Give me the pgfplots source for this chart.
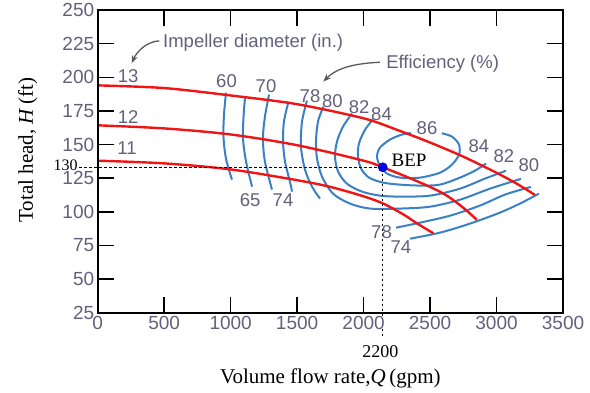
\documentclass[border=0pt]{standalone}
\usepackage{fontspec}
\setmainfont{Liberation Serif}
\setsansfont{Liberation Sans}
\usepackage{pgfplots}
\pgfplotsset{compat=1.18}
\usetikzlibrary{arrows.meta}
\definecolor{cblue}{RGB}{58,128,196}
\definecolor{cred}{RGB}{240,20,20}
\definecolor{lbl}{RGB}{98,96,122}
\newcommand\lf{\fontsize{18.5}{18.5}\selectfont\sffamily}
\begin{document}
\begin{tikzpicture}
\begin{axis}[
  scale only axis, width=465.3pt, height=302.6pt,
  xmin=0, xmax=3500, ymin=25, ymax=250,
  xtick={0,500,...,3500}, ytick={25,50,...,250},
  tick align=inside, major tick length=16pt,
  tick style={draw=black, line width=1.5pt},
  axis line style={draw=black, line width=1.8pt},
  axis on top,
  ticklabel style={font=\fontsize{19}{19}\selectfont\sffamily, text=lbl},
  /pgf/number format/assume math mode=true,
  /pgf/number format/1000 sep={},
  scaled ticks=false,
  clip=false,
]
\path ([shift={(-97.7pt,-80pt)}]rel axis cs:0,0) rectangle ([shift={(27pt,8.4pt)}]rel axis cs:1,1);
% efficiency contours
\addplot[cblue, line width=2pt, smooth] coordinates {(965,188.6) (950,172.3) (946,155.9) (965,139.5) (1010,123.9)};
\addplot[cblue, line width=2pt, smooth] coordinates {(1108,184.9) (1097,170.8) (1093,154.4) (1116,137.3) (1161,118.7)};
\addplot[cblue, line width=2pt, smooth] coordinates {(1289,187.2) (1258,170.8) (1243,154.4) (1258,137.3) (1311,116.5)};
\addplot[cblue, line width=2pt, smooth] coordinates {(1435,181.9) (1401,167.1) (1394,152.2) (1409,137.3) (1446,122.4) (1462,115)};
\addplot[cblue, line width=2pt, smooth] coordinates {(1574,182.7) (1537,167.1) (1529,148.5) (1559,131.4) (1612,118.7) (1672,109.8)};
\addplot[cblue, line width=2pt, smooth] coordinates {(1698,178.2) (1657,167.1) (1642,152.2) (1650,139.5) (1687,126.2) (1770,113.5) (1898,106.1) (2048,102.4) (2274,102.4) (2500,103.8) (2725,109) (2951,117.2) (3184,124.5)};
\addplot[cblue, line width=2pt, smooth] coordinates {(1913,173) (1845,163.3) (1800,152.2) (1785,141) (1808,129.9) (1875,120.9) (1988,115) (2123,112) (2274,111.3) (2500,112) (2725,117.2) (2913,124.7) (3071,130.5)};
\addplot[cblue, line width=2pt, smooth] coordinates {(2071,168.6) (2011,161.1) (1965,150.7) (1958,141) (1981,132.1) (2041,125.4) (2146,121.7) (2274,120.2) (2424,119.5) (2575,120.2) (2725,125.4) (2838,130.6) (2921,135.8)};
\addplot[cblue, line width=2pt, smooth] coordinates {(2588,158.4) (2665,155.9) (2718,149.9) (2718,142.5) (2665,135.1) (2575,129.1) (2424,125.4) (2274,125.4) (2177,128.4) (2123,134.3) (2101,141) (2123,147.7) (2199,153.7) (2289,157.4) (2357,158.5)};
\addplot[cblue, line width=2pt, smooth] coordinates {(2244,88.2) (2424,91.9) (2650,97.1) (2875,104.6) (3064,112.8) (3259,118.5)};
\addplot[cblue, line width=2pt, smooth] coordinates {(2349,80) (2575,84.5) (2800,91.2) (3026,99.4) (3176,106.1) (3319,113.5)};
% impeller curves
\addplot[cred, line width=2.4pt, smooth] coordinates {(0,194) (500,192) (1000,186.5) (1500,180) (2000,169.5) (2250,161) (2500,151.5) (2750,141) (3000,129) (3150,121) (3290,112.5)};
\addplot[cred, line width=2.4pt, smooth] coordinates {(0,164.3) (500,162) (1000,157.5) (1500,149.5) (2000,138) (2145,133) (2300,127) (2500,118.5) (2626,112) (2750,103) (2852,94)};
\addplot[cred, line width=2.4pt, smooth] coordinates {(0,138) (500,136) (1000,131.5) (1500,123.5) (1750,118.5) (2000,111.5) (2150,106) (2300,98) (2400,91.5) (2525,84)};
% BEP guide lines
\addplot[black, line width=1.3pt, dash pattern=on 2.5pt off 2.5pt] coordinates {(-140,133.1) (2144,133.1) (2144,5.7)};
\addplot[only marks, mark=*, mark size=4.5pt, mark options={fill=blue, draw=black!60!blue, line width=0.6pt}] coordinates {(2144,133.1)};
% labels
\node[font=\lf, text=lbl] at (axis cs:969,197.2) {60};
\node[font=\lf, text=lbl] at (axis cs:1266,193.1) {70};
\node[font=\lf, text=lbl] at (axis cs:1597,186) {78};
\node[font=\lf, text=lbl] at (axis cs:1766,182.3) {80};
\node[font=\lf, text=lbl] at (axis cs:1966,177.9) {82};
\node[font=\lf, text=lbl] at (axis cs:2135,172.6) {84};
\node[font=\lf, text=lbl] at (axis cs:2477,161.9) {86};
\node[font=\lf, text=lbl] at (axis cs:2868,148.5) {84};
\node[font=\lf, text=lbl] at (axis cs:3056,141.4) {82};
\node[font=\lf, text=lbl] at (axis cs:3244,134.7) {80};
\node[font=\lf, text=lbl] at (axis cs:1146,109) {65};
\node[font=\lf, text=lbl] at (axis cs:1394,109) {74};
\node[font=\lf, text=lbl] at (axis cs:2135,84.9) {78};
\node[font=\lf, text=lbl] at (axis cs:2281,73.7) {74};
\node[font=\lf, text=lbl] at (axis cs:229,200.5) {13};
\node[font=\lf, text=lbl] at (axis cs:229,170.8) {12};
\node[font=\lf, text=lbl] at (axis cs:221,147) {11};
\node[font=\lf, text=lbl, anchor=west, inner sep=0pt] at (axis cs:491,226) {Impeller diameter (in.)};
\node[font=\lf, text=lbl, anchor=west, inner sep=0pt] at (axis cs:2169,209.8) {Efficiency (\%)};
\draw[black!65, line width=1.3pt, -{Stealth[length=8pt,width=6pt]}] (axis cs:463,227.1) .. controls (axis cs:369,226.6) and (axis cs:293,219.1) .. (axis cs:256,210.4);
\draw[black!65, line width=1.3pt, -{Stealth[length=8pt,width=6pt]}] (axis cs:2123,211.2) .. controls (axis cs:1898,210.2) and (axis cs:1786,205.7) .. (axis cs:1697,196.8);
\node[font=\fontsize{19}{19}\selectfont] at (axis cs:2342,138.6) {BEP};
\node[font=\fontsize{16}{16}\selectfont, anchor=east, inner sep=0pt] at (axis cs:-150,134.3) {130};
\node[font=\fontsize{18}{18}\selectfont] at (axis cs:2127,-4) {2200};
\node[font=\fontsize{21}{21}\selectfont, anchor=base] at (axis cs:1750,-27.8) {Volume flow rate,\textit{Q}\,(gpm)};
\node[font=\fontsize{21}{21}\selectfont, anchor=base, rotate=90] at (axis cs:-487,145.9) {Total head, \textit{H}\,(ft)};
\end{axis}
\end{tikzpicture}
\end{document}
